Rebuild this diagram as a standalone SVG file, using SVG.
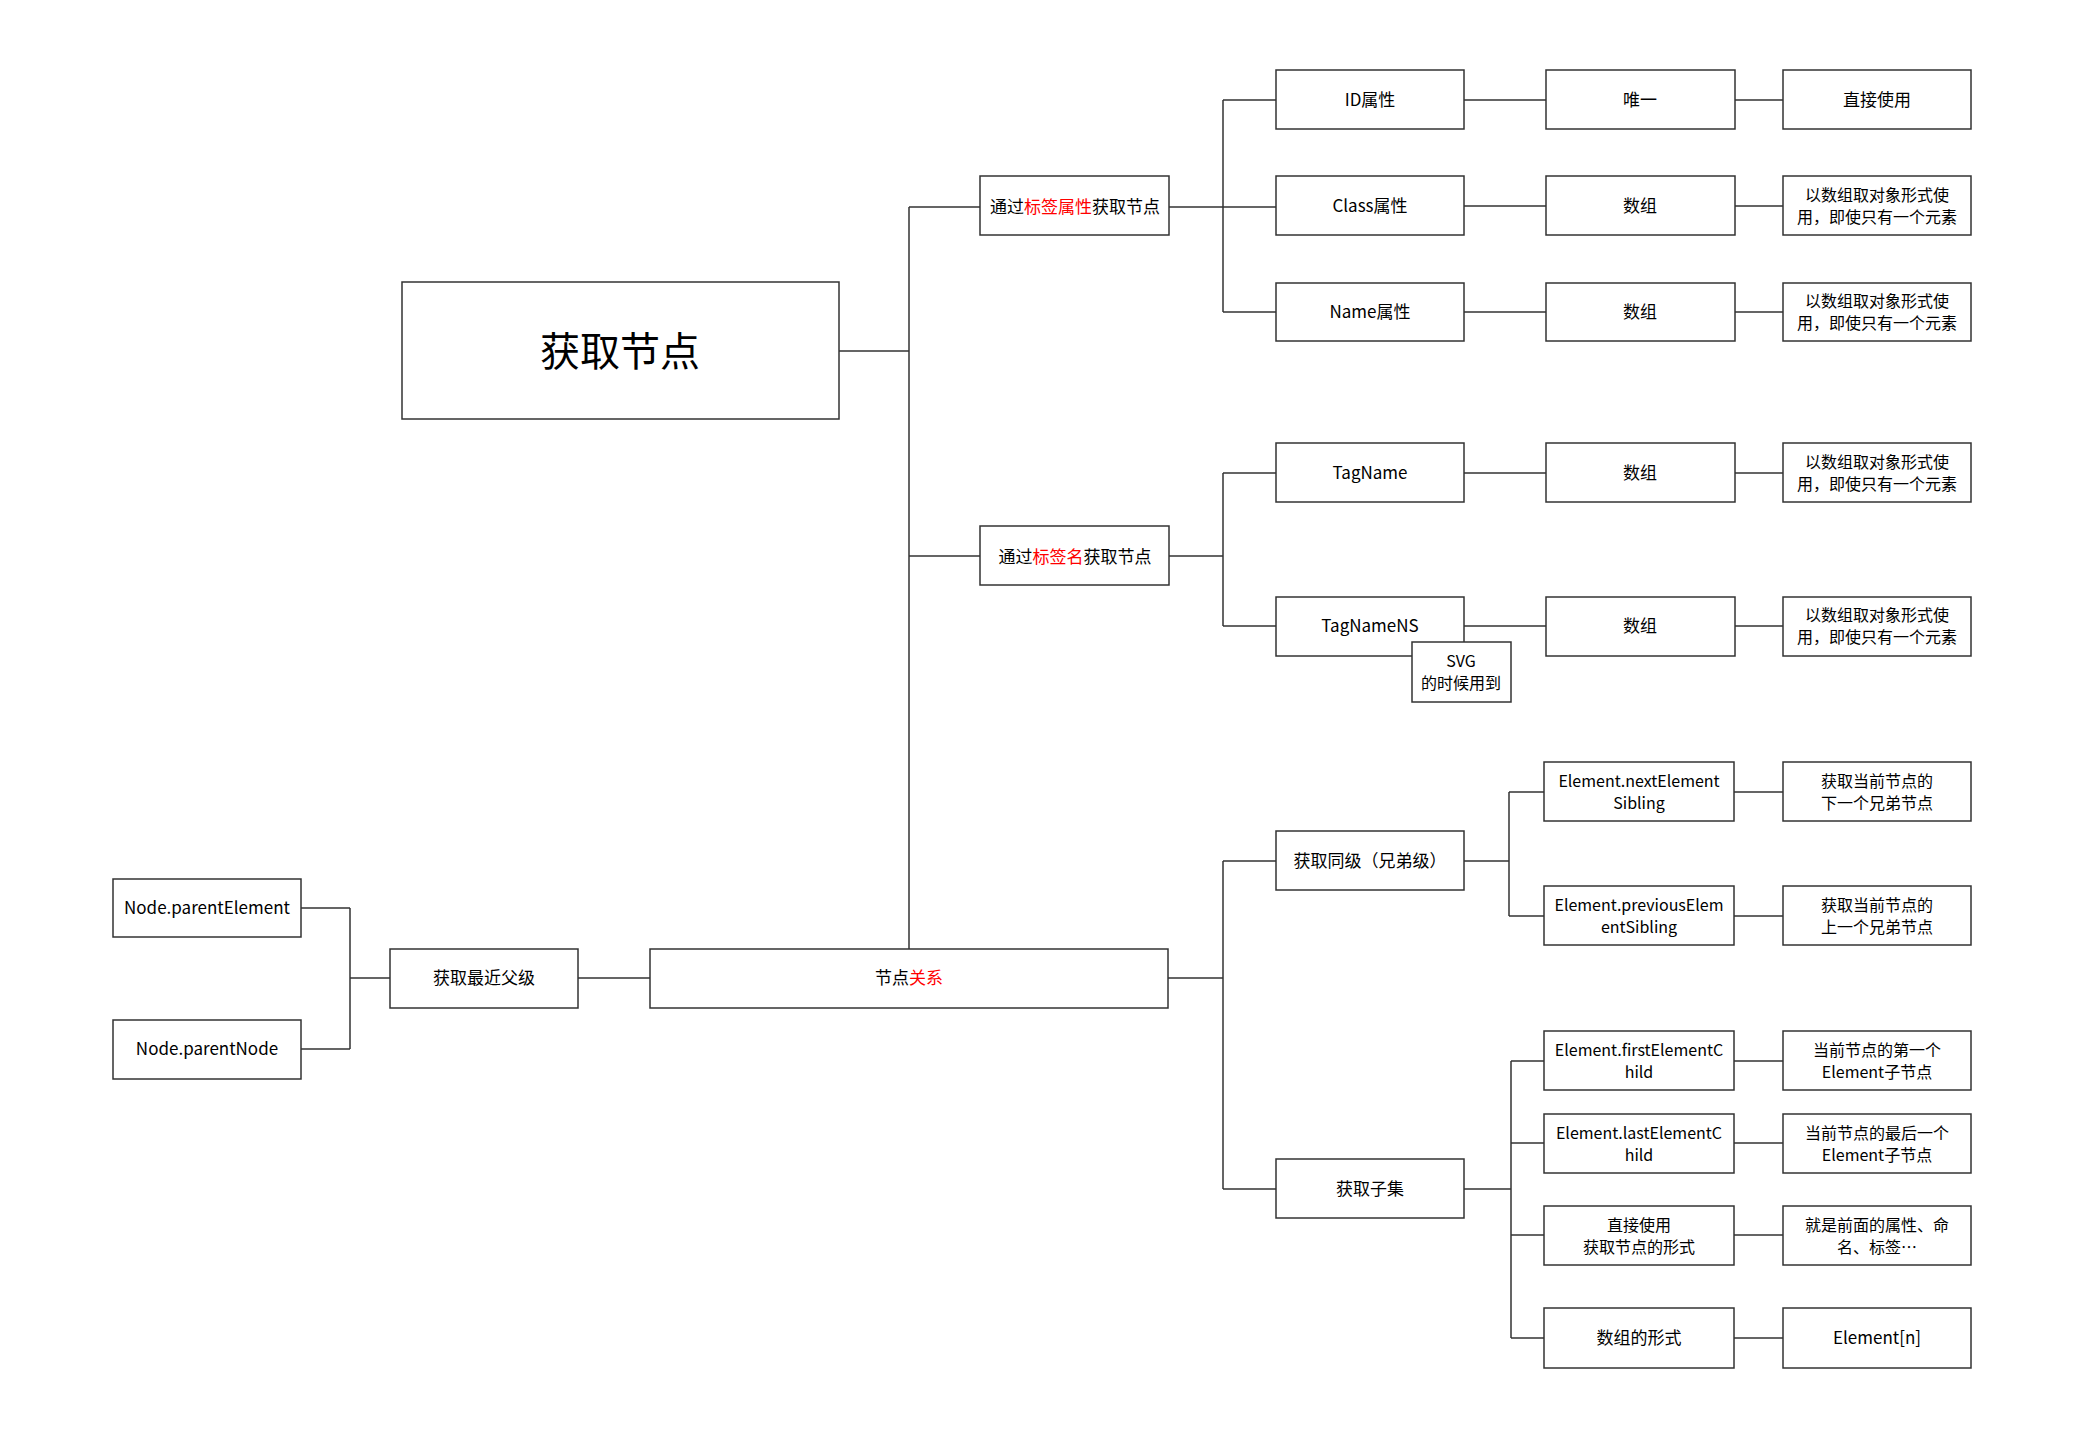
<svg xmlns="http://www.w3.org/2000/svg" width="2084" height="1438" viewBox="0 0 2084 1438">
<style>
rect{fill:#fff;stroke:#333;stroke-width:1.5}
text{font-family:"Noto Sans CJK SC","Noto Sans",sans-serif;font-size:17px;fill:#000;text-anchor:middle;dominant-baseline:central}
.t{font-size:16px}
.r{fill:#f00}
#conn path{fill:none;stroke:#333;stroke-width:1.5}
</style>
<rect x="0" y="0" width="2084" height="1438" style="stroke:none"/>
<g id="conn">
<path d="M839 351H909M909 207V949M909 207H980M909 556H980"/>
<path d="M1169 207H1276M1223 100V312M1223 100H1276M1223 312H1276"/>
<path d="M1169 556H1223M1223 473V626M1223 473H1276M1223 626H1276"/>
<path d="M1464 100H1546M1735 100H1783M1464 206H1546M1735 206H1783M1464 312H1546M1735 312H1783"/>
<path d="M1464 473H1546M1735 473H1783M1464 626H1546M1735 626H1783"/>
<path d="M1168 978H1223M1223 861V1189M1223 861H1276M1223 1189H1276"/>
<path d="M1464 861H1509M1509 792V916M1509 792H1544M1509 916H1544M1734 792H1783M1734 916H1783"/>
<path d="M1464 1189H1511M1511 1061V1338M1511 1061H1544M1511 1143H1544M1511 1235H1544M1511 1338H1544"/>
<path d="M1734 1061H1783M1734 1143H1783M1734 1235H1783M1734 1338H1783"/>
<path d="M578 978H650M350 908V1049M301 908H350M301 1049H350M350 978H390"/>
</g>
<g id="root"><rect x="402" y="282" width="437" height="137"/><text x="620" y="349" style="font-size:40px">获取节点</text></g>
<g id="byAttr"><rect x="980" y="176" width="189" height="59"/><text x="1075" y="205">通过<tspan class="r">标签属性</tspan>获取节点</text></g>
<g id="byTag"><rect x="980" y="526" width="189" height="59"/><text x="1075" y="555">通过<tspan class="r">标签名</tspan>获取节点</text></g>
<g id="id"><rect x="1276" y="70" width="188" height="59"/><text x="1370" y="98">ID属性</text></g>
<g id="class"><rect x="1276" y="176" width="188" height="59"/><text x="1370" y="204">Class属性</text></g>
<g id="name"><rect x="1276" y="283" width="188" height="58"/><text x="1370" y="310">Name属性</text></g>
<g id="tagname"><rect x="1276" y="443" width="188" height="59"/><text x="1370" y="471">TagName</text></g>
<g id="tagnamens"><rect x="1276" y="597" width="188" height="59"/><text x="1370" y="624">TagNameNS</text></g>
<g id="svgnote"><rect x="1412" y="642" width="99" height="60"/><text class="t" x="1461" y="660">SVG</text><text class="t" x="1461" y="682">的时候用到</text></g>
<g id="uniq"><rect x="1546" y="70" width="189" height="59"/><text x="1640" y="98">唯一</text></g>
<g id="arr1"><rect x="1546" y="176" width="189" height="59"/><text x="1640" y="204">数组</text></g>
<g id="arr2"><rect x="1546" y="283" width="189" height="58"/><text x="1640" y="310">数组</text></g>
<g id="arr3"><rect x="1546" y="443" width="189" height="59"/><text x="1640" y="471">数组</text></g>
<g id="arr4"><rect x="1546" y="597" width="189" height="59"/><text x="1640" y="624">数组</text></g>
<g id="direct"><rect x="1783" y="70" width="188" height="59"/><text x="1877" y="98">直接使用</text></g>
<g id="use1"><rect x="1783" y="176" width="188" height="59"/><text class="t" x="1877" y="194">以数组取对象形式使</text><text class="t" x="1877" y="216">用，即使只有一个元素</text></g>
<g id="use2"><rect x="1783" y="283" width="188" height="58"/><text class="t" x="1877" y="300">以数组取对象形式使</text><text class="t" x="1877" y="322">用，即使只有一个元素</text></g>
<g id="use3"><rect x="1783" y="443" width="188" height="59"/><text class="t" x="1877" y="461">以数组取对象形式使</text><text class="t" x="1877" y="483">用，即使只有一个元素</text></g>
<g id="use4"><rect x="1783" y="597" width="188" height="59"/><text class="t" x="1877" y="614">以数组取对象形式使</text><text class="t" x="1877" y="636">用，即使只有一个元素</text></g>
<g id="rel"><rect x="650" y="949" width="518" height="59"/><text x="909" y="976">节点<tspan class="r">关系</tspan></text></g>
<g id="parent"><rect x="390" y="949" width="188" height="59"/><text x="484" y="976">获取最近父级</text></g>
<g id="pe"><rect x="113" y="879" width="188" height="58"/><text x="207" y="906">Node.parentElement</text></g>
<g id="pn"><rect x="113" y="1020" width="188" height="59"/><text x="207" y="1047">Node.parentNode</text></g>
<g id="sib"><rect x="1276" y="831" width="188" height="59"/><text x="1370" y="859">获取同级（兄弟级）</text></g>
<g id="kids"><rect x="1276" y="1159" width="188" height="59"/><text x="1370" y="1187">获取子集</text></g>
<g id="next"><rect x="1544" y="762" width="190" height="59"/><text class="t" x="1639" y="780">Element.nextElement</text><text class="t" x="1639" y="802">Sibling</text></g>
<g id="prev"><rect x="1544" y="886" width="190" height="59"/><text class="t" x="1639" y="904">Element.previousElem</text><text class="t" x="1639" y="926">entSibling</text></g>
<g id="first"><rect x="1544" y="1031" width="190" height="59"/><text class="t" x="1639" y="1049">Element.firstElementC</text><text class="t" x="1639" y="1071">hild</text></g>
<g id="last"><rect x="1544" y="1114" width="190" height="59"/><text class="t" x="1639" y="1132">Element.lastElementC</text><text class="t" x="1639" y="1154">hild</text></g>
<g id="dir"><rect x="1544" y="1206" width="190" height="59"/><text class="t" x="1639" y="1224">直接使用</text><text class="t" x="1639" y="1246">获取节点的形式</text></g>
<g id="arrf"><rect x="1544" y="1308" width="190" height="60"/><text x="1639" y="1336">数组的形式</text></g>
<g id="nextd"><rect x="1783" y="762" width="188" height="59"/><text class="t" x="1877" y="780">获取当前节点的</text><text class="t" x="1877" y="802">下一个兄弟节点</text></g>
<g id="prevd"><rect x="1783" y="886" width="188" height="59"/><text class="t" x="1877" y="904">获取当前节点的</text><text class="t" x="1877" y="926">上一个兄弟节点</text></g>
<g id="firstd"><rect x="1783" y="1031" width="188" height="59"/><text class="t" x="1877" y="1049">当前节点的第一个</text><text class="t" x="1877" y="1071">Element子节点</text></g>
<g id="lastd"><rect x="1783" y="1114" width="188" height="59"/><text class="t" x="1877" y="1132">当前节点的最后一个</text><text class="t" x="1877" y="1154">Element子节点</text></g>
<g id="dird"><rect x="1783" y="1206" width="188" height="59"/><text class="t" x="1877" y="1224">就是前面的属性、命</text><text class="t" x="1877" y="1246">名、标签…</text></g>
<g id="arrd"><rect x="1783" y="1308" width="188" height="60"/><text x="1877" y="1336">Element[n]</text></g>
</svg>
